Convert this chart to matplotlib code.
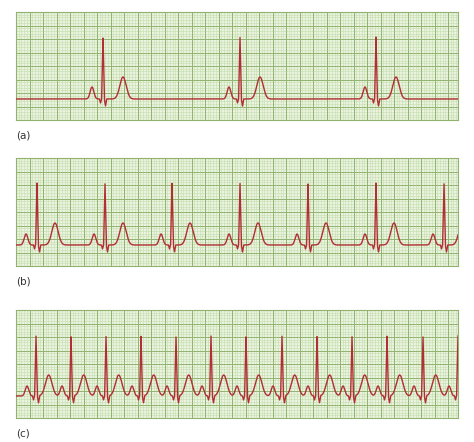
import numpy as np
import matplotlib
matplotlib.use("Agg")
import matplotlib.pyplot as plt

labels = ["(a)", "(b)", "(c)"]
r_peaks = [[87, 224, 360],
           [21, 89, 156, 224, 292, 360, 428],
           [20, 55, 90, 125, 160, 195, 230, 266, 301, 336, 371, 407, 442]]
p_offset = [-11, -11, -9]
t_offset = [20, 18, 12.7]
t_width = [4.5, 4.5, 4.6]
p_width = [2.6, 2.6, 2.5]
r_height = [62, 62, 60]
t_height = [22, 22, 21]
p_height = [12, 11, 10]
baseline = [21, 21, 22]
panel_top = [12, 158, 310]

W, H = 474, 442
fig = plt.figure(figsize=(W/100, H/100), dpi=100)

def tri(x, c, w, h):
    return h*np.clip(1-np.abs(x-c)/w, 0, None)

x = np.linspace(0, 442, 8000)
for i in range(3):
    ax = fig.add_axes([16/W, (H-panel_top[i]-108)/H, 442/W, 108/H])
    ax.set_xlim(0, 442); ax.set_ylim(0, 108)
    ax.set_facecolor("#eaf3df")
    for gx in np.arange(0, 443, 2.7):
        ax.axvline(gx, color="#c6dcae", lw=0.4, zorder=0)
    for gy in np.arange(0, 109, 2.7):
        ax.axhline(gy, color="#c6dcae", lw=0.4, zorder=0)
    for gx in np.arange(0, 443, 13.5):
        ax.axvline(gx, color="#92b370", lw=0.7, zorder=1)
    for gy in np.arange(0, 109, 13.5):
        ax.axhline(gy, color="#92b370", lw=0.7, zorder=1)
    y = np.zeros_like(x)
    for r in r_peaks[i]:
        y += p_height[i]*np.exp(-((x-(r+p_offset[i]))/p_width[i])**2)
        y -= tri(x, r-2.5, 1.0, 4)
        y += tri(x, r, 1.4, r_height[i])
        y -= tri(x, r+2.5, 1.2, 7)
        y += t_height[i]*np.exp(-((x-(r+t_offset[i]))/t_width[i])**2)
    ax.plot(x, baseline[i]+y, color="#b02e34", lw=1.0, zorder=3)
    ax.set_xticks([]); ax.set_yticks([])
    for s in ax.spines.values():
        s.set_color("#92b370")
    fig.text(16/W, (H-panel_top[i]-108-16)/H, labels[i], fontsize=7.5, va="center", color="#333333")

fig.savefig("out.png", dpi=100)
